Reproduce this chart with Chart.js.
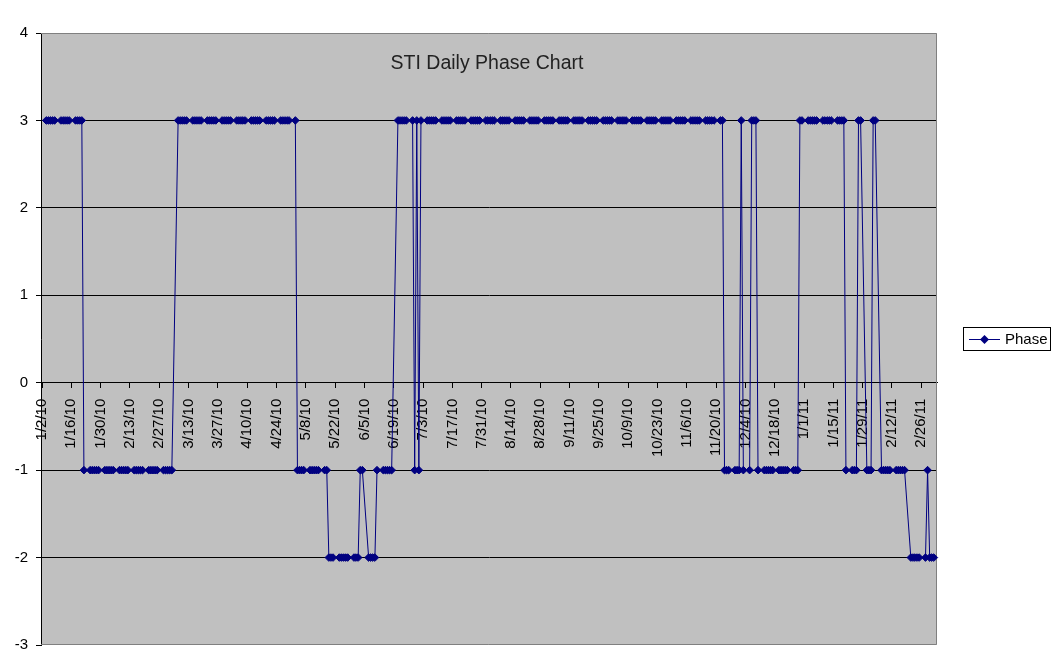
<!DOCTYPE html>
<html>
<head>
<meta charset="utf-8">
<title>STI Daily Phase Chart</title>
<script src="https://cdn.jsdelivr.net/npm/chart.js@4.4.1/dist/chart.umd.min.js"></script>
<style>
  html, body { margin: 0; padding: 0; background: #fff; }
  #wrap { width: 1058px; height: 657px; }
</style>
</head>
<body>
<div id="wrap"><canvas id="phaseChart" width="1058" height="657"></canvas></div>
<script>
// ─── DATA ───
const chartTitle = "STI Daily Phase Chart";
const seriesName = "Phase";

// date axis runs day by day from 1/2/10 to 3/5/11
const axisStart = [2010, 0, 2];
const axisEnd = [2011, 2, 5];

// labelled every two weeks
const xTickLabels = [
    "1/2/10", "1/16/10", "1/30/10", "2/13/10", "2/27/10", "3/13/10", "3/27/10", "4/10/10",
    "4/24/10", "5/8/10", "5/22/10", "6/5/10", "6/19/10", "7/3/10", "7/17/10", "7/31/10",
    "8/14/10", "8/28/10", "9/11/10", "9/25/10", "10/9/10", "10/23/10", "11/6/10", "11/20/10",
    "12/4/10", "12/18/10", "1/1/11", "1/15/11", "1/29/11", "2/12/11", "2/26/11"
];
const yTicks = [-3, -2, -1, 0, 1, 2, 3, 4];

// trading weeks (Monday), one row of Mon..Fri phases per week
const weekStarts = [
    "1/4/10", "1/11/10", "1/18/10", "1/25/10", "2/1/10", "2/8/10", "2/15/10", "2/22/10",
    "3/1/10", "3/8/10", "3/15/10", "3/22/10", "3/29/10", "4/5/10", "4/12/10", "4/19/10",
    "4/26/10", "5/3/10", "5/10/10", "5/17/10", "5/24/10", "5/31/10", "6/7/10", "6/14/10",
    "6/21/10", "6/28/10", "7/5/10", "7/12/10", "7/19/10", "7/26/10", "8/2/10", "8/9/10",
    "8/16/10", "8/23/10", "8/30/10", "9/6/10", "9/13/10", "9/20/10", "9/27/10", "10/4/10",
    "10/11/10", "10/18/10", "10/25/10", "11/1/10", "11/8/10", "11/15/10", "11/22/10", "11/29/10",
    "12/6/10", "12/13/10", "12/20/10", "12/27/10", "1/3/11", "1/10/11", "1/17/11", "1/24/11",
    "1/31/11", "2/7/11", "2/14/11", "2/21/11", "2/28/11"
];
const phaseWeeks = [
    [3, 3, 3, 3, 3], [3, 3, 3, 3, 3], [3, 3, 3, 3, -1], [-1, -1, -1, -1, -1],
    [-1, -1, -1, -1, -1], [-1, -1, -1, -1, -1], [-1, -1, -1, -1, -1], [-1, -1, -1, -1, -1],
    [-1, -1, -1, -1, -1], [3, 3, 3, 3, 3], [3, 3, 3, 3, 3], [3, 3, 3, 3, 3],
    [3, 3, 3, 3, 3], [3, 3, 3, 3, 3], [3, 3, 3, 3, 3], [3, 3, 3, 3, 3],
    [3, 3, 3, 3, 3], [3, -1, -1, -1, -1], [-1, -1, -1, -1, -1], [-1, -1, -2, -2, -2],
    [-2, -2, -2, -2, -2], [-2, -2, -2, -1, -1], [-2, -2, -2, -2, -1], [-1, -1, -1, -1, -1],
    [3, 3, 3, 3, 3], [3, -1, 3, -1, 3], [3, 3, 3, 3, 3], [3, 3, 3, 3, 3],
    [3, 3, 3, 3, 3], [3, 3, 3, 3, 3], [3, 3, 3, 3, 3], [3, 3, 3, 3, 3],
    [3, 3, 3, 3, 3], [3, 3, 3, 3, 3], [3, 3, 3, 3, 3], [3, 3, 3, 3, 3],
    [3, 3, 3, 3, 3], [3, 3, 3, 3, 3], [3, 3, 3, 3, 3], [3, 3, 3, 3, 3],
    [3, 3, 3, 3, 3], [3, 3, 3, 3, 3], [3, 3, 3, 3, 3], [3, 3, 3, 3, 3],
    [3, 3, 3, 3, 3], [3, 3, 3, 3, 3], [3, 3, -1, -1, -1], [-1, -1, -1, 3, -1],
    [-1, 3, 3, 3, -1], [-1, -1, -1, -1, -1], [-1, -1, -1, -1, -1], [-1, -1, -1, 3, 3],
    [3, 3, 3, 3, 3], [3, 3, 3, 3, 3], [3, 3, 3, 3, -1], [-1, -1, -1, 3, 3],
    [-1, -1, -1, 3, 3], [-1, -1, -1, -1, -1], [-1, -1, -1, -1, -1], [-2, -2, -2, -2, -2],
    [-2, -1, -2, -2, -2]
];

// ─── BUILD ───
function fmtDate(d) {
    return (d.getMonth() + 1) + "/" + d.getDate() + "/" + String(d.getFullYear()).slice(2);
}

const days = [];
for (let d = new Date(...axisStart); d <= new Date(...axisEnd); d.setDate(d.getDate() + 1)) {
    days.push(fmtDate(d));
}

const phasePoints = [];
weekStarts.forEach((monday, w) => {
    const start = days.indexOf(monday);
    phaseWeeks[w].forEach((v, i) => {
        if (v !== null) phasePoints.push({ x: days[start + i], y: v });
    });
});

const FONT = '"Liberation Sans", Arial, sans-serif';
const NAVY = "#000080";

// gray plot area, border, title and boxed legend (Excel look)
const excelFrame = {
    id: "excelFrame",
    beforeDraw(chart) {
        const { ctx, chartArea: a } = chart;
        ctx.save();
        ctx.fillStyle = "#fff";
        ctx.fillRect(0, 0, chart.width, chart.height);
        ctx.fillStyle = "#C0C0C0";
        ctx.fillRect(a.left, a.top, a.right - a.left, a.bottom - a.top);
        ctx.restore();
    },
    beforeDatasetsDraw(chart) {
        const { ctx, chartArea: a } = chart;
        ctx.save();
        ctx.strokeStyle = "#808080";
        ctx.lineWidth = 1;
        ctx.beginPath();
        ctx.moveTo(a.left, a.top + 0.5);
        ctx.lineTo(a.right - 0.5, a.top + 0.5);
        ctx.lineTo(a.right - 0.5, a.bottom - 0.5);
        ctx.lineTo(a.left, a.bottom - 0.5);
        ctx.stroke();

        ctx.fillStyle = "#222";
        ctx.font = "19.5px " + FONT;
        ctx.textAlign = "center";
        ctx.textBaseline = "middle";
        ctx.fillText(chartTitle, (a.left + a.right) / 2 - 2, 63.5);
        ctx.restore();
    },
    afterDraw(chart) {
        const { ctx } = chart;
        ctx.save();
        ctx.strokeStyle = "#000";
        ctx.lineWidth = 1;
        ctx.strokeRect(963.5, 327.5, 87, 23);
        ctx.strokeStyle = NAVY;
        ctx.beginPath();
        ctx.moveTo(969, 339.5);
        ctx.lineTo(1000, 339.5);
        ctx.stroke();
        ctx.fillStyle = NAVY;
        ctx.beginPath();
        ctx.moveTo(984.5, 335);
        ctx.lineTo(989, 339.5);
        ctx.lineTo(984.5, 344);
        ctx.lineTo(980, 339.5);
        ctx.closePath();
        ctx.fill();
        ctx.fillStyle = "#000";
        ctx.font = "15px " + FONT;
        ctx.textAlign = "left";
        ctx.textBaseline = "middle";
        ctx.fillText(seriesName, 1005, 340);
        ctx.restore();
    }
};

new Chart(document.getElementById("phaseChart"), {
    type: "line",
    data: {
        labels: days,
        datasets: [{
            label: seriesName,
            data: phasePoints,
            borderColor: NAVY,
            backgroundColor: NAVY,
            borderWidth: 1,
            tension: 0,
            pointStyle: "rectRot",
            pointRadius: 3.8,
            pointBorderWidth: 1,
            pointBackgroundColor: NAVY,
            pointBorderColor: NAVY
        }]
    },
    options: {
        responsive: false,
        animation: false,
        layout: { padding: { left: 0, top: 33, right: 121, bottom: 12 } },
        plugins: {
            legend: { display: false },
            title: { display: false },
            tooltip: { enabled: false }
        },
        scales: {
            x: {
                type: "category",
                position: { y: 0 },
                offset: true,
                grid: { offset: false, drawOnChartArea: false, drawTicks: true, tickLength: 5, color: "#000" },
                border: { display: true, color: "#000" },
                ticks: {
                    autoSkip: false,
                    minRotation: 90,
                    maxRotation: 90,
                    padding: 11,
                    color: "#000",
                    font: { family: FONT, size: 15 }
                },
                afterBuildTicks: s => {
                    s.ticks = s.ticks.filter(t => xTickLabels.includes(days[t.value]));
                },
                afterFit: s => {
                    s.paddingLeft = 0; s.paddingRight = 0;
                    s.paddingTop = 0; s.paddingBottom = 0;
                    s.height = 0;
                }
            },
            y: {
                min: yTicks[0],
                max: yTicks[yTicks.length - 1],
                ticks: { stepSize: 1, padding: 8, color: "#000", font: { family: FONT, size: 15 } },
                grid: {
                    color: c => (c.tick && (c.tick.value === yTicks[0] || c.tick.value === yTicks[yTicks.length - 1])) ? "rgba(0,0,0,0)" : "#000",
                    tickColor: "#000",
                    tickLength: 5
                },
                border: { color: "#000" },
                afterFit: s => { s.width = 41; s.paddingTop = 0; s.paddingBottom = 0; }
            }
        }
    },
    plugins: [excelFrame]
});
</script>
</body>
</html>
